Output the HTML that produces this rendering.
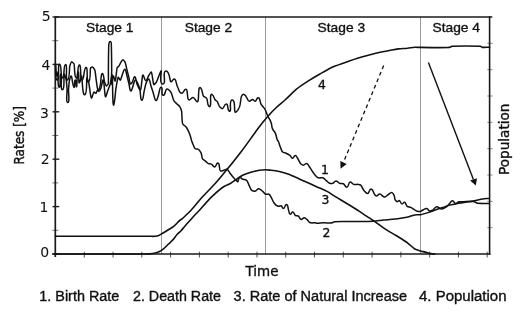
<!DOCTYPE html>
<html><head><meta charset="utf-8"><style>
html,body{margin:0;padding:0;background:#fff;}
svg{display:block;}
</style></head><body>
<svg width="522" height="313" viewBox="0 0 522 313">
<rect width="522" height="313" fill="#fff"/>
<line x1="161.5" y1="17" x2="161.5" y2="254" stroke="#9a9a9a" stroke-width="1"/>
<line x1="265.5" y1="17" x2="265.5" y2="254" stroke="#9a9a9a" stroke-width="1"/>
<line x1="420.5" y1="17" x2="420.5" y2="254" stroke="#9a9a9a" stroke-width="1"/>
<line x1="52.5" y1="254.00" x2="59.3" y2="254.00" stroke="#222" stroke-width="1.4"/>
<line x1="52.3" y1="230.30" x2="58.3" y2="230.30" stroke="#777" stroke-width="1"/>
<line x1="52.5" y1="206.60" x2="59.3" y2="206.60" stroke="#222" stroke-width="1.4"/>
<line x1="52.3" y1="182.90" x2="58.3" y2="182.90" stroke="#777" stroke-width="1"/>
<line x1="52.5" y1="159.20" x2="59.3" y2="159.20" stroke="#222" stroke-width="1.4"/>
<line x1="52.3" y1="135.50" x2="58.3" y2="135.50" stroke="#777" stroke-width="1"/>
<line x1="52.5" y1="111.80" x2="59.3" y2="111.80" stroke="#222" stroke-width="1.4"/>
<line x1="52.3" y1="88.10" x2="58.3" y2="88.10" stroke="#777" stroke-width="1"/>
<line x1="52.5" y1="64.40" x2="59.3" y2="64.40" stroke="#222" stroke-width="1.4"/>
<line x1="52.3" y1="40.70" x2="58.3" y2="40.70" stroke="#777" stroke-width="1"/>
<line x1="52.5" y1="17.00" x2="59.3" y2="17.00" stroke="#222" stroke-width="1.4"/>
<line x1="84.28" y1="251.7" x2="84.28" y2="257.5" stroke="#555" stroke-width="1"/>
<line x1="113.06" y1="251.7" x2="113.06" y2="257.5" stroke="#555" stroke-width="1"/>
<line x1="141.84" y1="251.7" x2="141.84" y2="257.5" stroke="#555" stroke-width="1"/>
<line x1="170.62" y1="251.7" x2="170.62" y2="257.5" stroke="#555" stroke-width="1"/>
<line x1="199.40" y1="251.7" x2="199.40" y2="257.5" stroke="#555" stroke-width="1"/>
<line x1="228.18" y1="251.7" x2="228.18" y2="257.5" stroke="#555" stroke-width="1"/>
<line x1="256.96" y1="251.7" x2="256.96" y2="257.5" stroke="#555" stroke-width="1"/>
<line x1="285.74" y1="251.7" x2="285.74" y2="257.5" stroke="#555" stroke-width="1"/>
<line x1="314.52" y1="251.7" x2="314.52" y2="257.5" stroke="#555" stroke-width="1"/>
<line x1="343.30" y1="251.7" x2="343.30" y2="257.5" stroke="#555" stroke-width="1"/>
<line x1="372.08" y1="251.7" x2="372.08" y2="257.5" stroke="#555" stroke-width="1"/>
<line x1="400.86" y1="251.7" x2="400.86" y2="257.5" stroke="#555" stroke-width="1"/>
<line x1="429.64" y1="251.7" x2="429.64" y2="257.5" stroke="#555" stroke-width="1"/>
<line x1="458.42" y1="251.7" x2="458.42" y2="257.5" stroke="#555" stroke-width="1"/>
<line x1="487.20" y1="251.7" x2="487.20" y2="257.5" stroke="#555" stroke-width="1"/>
<line x1="487.3" y1="43.33" x2="492.6" y2="43.33" stroke="#8a8a8a" stroke-width="1"/>
<line x1="487.3" y1="69.67" x2="492.6" y2="69.67" stroke="#8a8a8a" stroke-width="1"/>
<line x1="487.3" y1="96.00" x2="492.6" y2="96.00" stroke="#8a8a8a" stroke-width="1"/>
<line x1="487.3" y1="122.33" x2="492.6" y2="122.33" stroke="#8a8a8a" stroke-width="1"/>
<line x1="487.3" y1="148.67" x2="492.6" y2="148.67" stroke="#8a8a8a" stroke-width="1"/>
<line x1="487.3" y1="175.00" x2="492.6" y2="175.00" stroke="#8a8a8a" stroke-width="1"/>
<line x1="487.3" y1="201.33" x2="492.6" y2="201.33" stroke="#8a8a8a" stroke-width="1"/>
<line x1="487.3" y1="227.67" x2="492.6" y2="227.67" stroke="#8a8a8a" stroke-width="1"/>
<line x1="55.3" y1="17" x2="492.3" y2="17" stroke="#1a1a1a" stroke-width="1.6"/>
<line x1="55.3" y1="16.2" x2="55.3" y2="257" stroke="#1a1a1a" stroke-width="1.7"/>
<line x1="52.1" y1="254.0" x2="490.40000000000003" y2="254.0" stroke="#1a1a1a" stroke-width="1.6"/>
<line x1="489.6" y1="16.2" x2="489.6" y2="254.8" stroke="#1a1a1a" stroke-width="1.6"/>
<path d="M55.30,236.30 C83.53,236.30 135.00,236.30 140.00,236.30 C143.33,236.30 147.35,236.33 150.00,236.30 C151.77,236.28 153.55,236.45 155.30,236.20 C156.48,236.03 157.68,235.82 158.80,235.40 C160.01,234.94 161.07,234.15 162.20,233.50 C163.89,232.53 166.08,231.19 168.00,230.00 C169.91,228.82 171.92,227.77 173.70,226.40 C175.92,224.68 178.30,221.61 179.70,220.50 C180.63,219.76 181.67,219.15 182.60,218.40 C184.00,217.28 185.67,215.47 187.20,214.00 C188.24,213.00 189.28,212.02 190.30,211.00 C191.83,209.48 198.64,201.09 203.00,196.30 C206.74,192.18 210.78,188.34 214.50,184.20 C217.06,181.35 219.53,178.42 222.00,175.50 C225.71,171.12 235.54,159.13 241.70,151.00 C245.80,145.58 250.80,138.50 253.70,134.50 C255.63,131.83 257.50,129.12 259.50,126.50 C262.06,123.15 264.71,119.86 267.50,116.70 C270.16,113.70 272.90,110.77 275.80,108.00 C278.74,105.19 281.98,102.72 285.00,100.00 C288.91,96.48 292.40,92.49 296.50,89.20 C300.14,86.28 304.08,83.73 308.00,81.20 C311.76,78.77 315.62,76.51 319.50,74.30 C324.42,71.49 329.29,68.53 334.50,66.30 C338.24,64.70 342.16,63.55 346.00,62.20 C349.83,60.85 353.62,59.39 357.50,58.20 C360.48,57.28 363.49,56.50 366.50,55.70 C370.32,54.68 374.14,53.67 378.00,52.80 C381.81,51.94 385.66,51.22 389.50,50.50 C392.46,49.94 395.41,49.28 398.40,48.90 C401.45,48.51 404.54,48.51 407.60,48.20 C410.07,47.95 412.52,47.39 415.00,47.30 C416.67,47.24 418.33,47.37 420.00,47.40 C422.50,47.44 448.98,47.77 450.00,47.30 C450.68,46.99 451.32,46.61 452.00,46.30 C453.02,45.83 479.74,45.87 480.50,46.30 C481.01,46.58 481.47,46.95 482.00,47.20 C482.79,47.57 487.07,47.20 489.60,47.20" fill="none" stroke="#111" stroke-width="1.6" stroke-linejoin="round" stroke-linecap="round"/>
<path d="M55.30,254.00 C83.53,254.00 135.00,254.04 140.00,254.00 C143.33,253.97 147.84,254.12 150.00,253.90 C151.44,253.76 152.89,253.62 154.30,253.30 C156.09,252.89 157.86,252.32 159.50,251.50 C160.92,250.79 162.26,249.89 163.50,248.90 C164.77,247.89 165.82,246.62 167.00,245.50 C168.13,244.42 169.28,243.38 170.40,242.30 C171.38,241.35 172.38,240.42 173.30,239.40 C174.67,237.88 175.73,235.86 177.20,234.30 C178.25,233.19 179.53,232.30 180.60,231.20 C181.82,229.95 182.86,228.53 184.00,227.20 C185.71,225.21 188.05,222.59 190.10,220.30 C191.99,218.19 194.23,215.63 195.80,214.00 C196.85,212.91 197.94,211.88 199.00,210.80 C200.59,209.19 207.42,200.75 212.20,196.30 C216.07,192.70 221.51,188.05 224.50,186.30 C226.49,185.13 228.70,184.36 230.70,183.20 C232.71,182.03 234.56,180.60 236.50,179.30 C238.40,178.03 240.17,176.55 242.20,175.50 C244.05,174.54 246.03,173.88 248.00,173.20 C249.87,172.55 251.78,171.98 253.70,171.50 C255.61,171.02 257.55,170.58 259.50,170.30 C261.39,170.02 263.29,169.80 265.20,169.80 C267.14,169.80 269.07,170.09 271.00,170.30 C273.75,170.60 276.50,170.92 279.20,171.50 C281.91,172.09 284.58,172.89 287.20,173.80 C289.16,174.49 291.08,175.30 293.00,176.10 C295.88,177.30 300.66,179.58 304.50,181.30 C308.33,183.01 312.17,184.69 316.00,186.40 C319.84,188.12 323.87,189.56 327.50,191.60 C329.92,192.96 332.15,194.63 334.50,196.10 C338.03,198.31 342.18,200.67 346.00,203.00 C350.63,205.82 356.42,209.39 359.80,211.60 C362.05,213.07 364.26,214.62 366.50,216.10 C369.15,217.86 371.87,219.51 374.50,221.30 C378.07,223.73 381.40,226.52 385.00,228.90 C388.73,231.37 392.71,233.43 396.50,235.80 C400.38,238.23 404.43,240.61 408.00,243.30 C410.38,245.10 412.72,247.88 414.90,249.00 C416.36,249.74 417.94,250.21 419.50,250.70 C421.37,251.28 423.30,251.62 425.20,252.10 C427.14,252.59 429.03,253.28 431.00,253.60 C432.32,253.82 433.67,253.87 435.00,254.00" fill="none" stroke="#111" stroke-width="1.6" stroke-linejoin="round" stroke-linecap="round"/>
<path d="M55.50,65.00 C55.72,66.83 56.28,76.91 56.80,76.00 C57.14,75.39 57.71,72.63 58.00,72.00 C58.43,71.05 57.32,88.54 59.40,87.10 C61.20,85.85 59.16,75.46 60.80,74.00 C62.78,72.24 59.75,89.77 62.40,89.80 C65.05,89.83 63.34,72.68 64.20,74.00 C64.78,74.88 65.96,78.97 66.20,80.00 C66.56,81.54 66.98,88.33 67.10,90.00 C67.26,92.08 65.71,102.50 67.80,102.50 C69.89,102.50 68.33,92.08 68.50,90.00 C68.63,88.33 69.20,81.03 69.50,80.00 C69.70,79.32 70.37,76.33 71.00,76.00 C71.92,75.53 72.23,81.01 72.50,82.00 C72.75,82.91 73.27,86.96 74.10,87.40 C75.20,87.99 74.09,79.67 75.30,80.00 C76.39,80.30 76.04,85.66 76.50,86.70 C77.18,88.26 76.84,70.01 78.30,72.00 C79.36,73.45 78.18,83.85 79.50,82.70 C80.38,81.93 80.91,77.00 81.50,76.00 C82.39,74.49 81.97,96.05 84.90,94.80 C87.50,93.69 86.16,76.66 87.00,78.00 C87.56,78.89 88.71,82.99 89.00,84.00 C89.44,85.52 90.63,99.07 91.70,97.90 C92.41,97.12 93.42,91.88 94.00,92.00 C94.39,92.08 95.60,93.32 96.00,93.30 C96.60,93.27 96.96,89.93 97.50,90.00 C97.86,90.05 98.74,91.43 99.10,91.50 C99.64,91.61 100.73,88.61 101.00,88.00 C101.40,87.09 102.25,81.15 103.00,80.00 C104.13,78.28 104.65,98.13 105.70,96.70 C106.40,95.75 107.59,91.11 108.00,90.00 C108.32,89.16 109.72,85.85 110.00,85.00 C110.42,83.72 111.45,76.61 112.00,75.00 C112.82,72.59 112.27,108.75 113.80,104.80 C114.82,102.17 115.49,90.72 116.00,88.00 C116.34,86.19 117.80,76.61 118.40,77.20 C118.80,77.59 119.61,79.83 120.10,80.10 C120.83,80.51 122.07,75.00 122.50,74.00 C122.85,73.19 123.86,69.47 124.70,69.20 C125.84,68.83 126.66,74.85 127.00,76.00 C127.39,77.32 128.64,82.67 129.00,84.00 C129.32,85.17 129.87,91.43 131.00,91.00 C131.84,90.68 132.66,86.83 133.00,86.00 C133.41,85.00 134.44,79.77 135.50,80.00 C136.27,80.17 137.65,83.29 138.00,84.00 C138.47,84.95 139.72,88.99 140.00,90.00 C140.43,91.52 140.42,100.90 142.00,100.20 C143.29,99.63 143.67,93.37 144.00,92.00 C144.34,90.58 145.49,84.68 146.00,83.50 C146.34,82.71 147.68,79.25 148.50,79.00 C149.68,78.63 150.60,84.83 151.00,86.00 C151.34,87.00 152.65,91.01 153.00,92.00 C153.51,93.43 154.91,101.13 156.30,100.50 C157.28,100.06 158.24,95.51 158.60,94.50 C159.02,93.31 159.65,87.48 160.90,87.30 C163.65,86.90 160.43,95.24 163.20,95.30 C165.69,95.36 164.94,88.74 167.20,89.00 C168.71,89.17 169.71,90.76 170.70,91.90 C172.19,93.62 172.84,99.48 174.10,101.10 C174.94,102.18 176.02,103.04 177.00,104.00 C177.96,104.94 179.14,105.69 179.90,106.80 C180.82,108.15 181.27,109.80 181.60,111.40 C181.89,112.81 181.77,114.27 181.90,115.70 C182.09,117.85 181.84,122.96 183.00,124.40 C183.77,125.36 185.08,125.78 185.90,126.70 C186.93,127.84 187.51,129.32 188.20,130.70 C189.11,132.53 189.88,134.45 190.50,136.40 C190.99,137.94 191.18,139.57 191.70,141.10 C192.17,142.50 192.77,143.86 193.40,145.20 C193.95,146.36 194.13,147.90 195.20,148.60 C196.00,149.12 197.15,148.77 198.00,149.20 C199.28,149.84 200.15,151.31 200.90,152.60 C202.01,154.51 201.64,157.94 202.60,159.00 C203.24,159.71 204.15,160.12 204.90,160.70 C206.03,161.57 207.03,163.06 208.40,163.60 C209.31,163.96 210.39,163.73 211.30,164.10 C212.67,164.65 213.21,167.10 214.70,167.00 C216.34,166.89 216.04,163.52 217.60,163.00 C219.94,162.21 219.09,170.82 220.50,171.00 C221.44,171.12 222.38,170.73 223.30,170.50 C224.50,170.20 225.59,169.05 226.80,169.30 C228.28,169.61 228.75,171.62 229.70,172.80 C230.82,174.18 231.84,175.65 233.00,177.00 C234.11,178.28 235.95,180.15 236.50,180.70 C236.86,181.07 237.14,181.56 237.60,181.80 C238.29,182.16 238.59,177.00 240.00,177.20 C240.94,177.33 241.38,178.53 242.20,179.00 C243.43,179.70 245.13,179.30 246.30,180.10 C247.93,181.21 248.15,183.57 249.10,185.30 C250.05,187.04 250.43,189.69 252.00,190.50 C253.05,191.04 254.36,191.31 255.50,191.00 C256.66,190.68 257.12,188.96 258.30,188.70 C260.07,188.31 261.59,190.43 263.00,191.60 C263.94,192.38 264.46,193.75 265.60,194.20 C266.65,194.62 267.97,193.72 269.00,194.20 C270.24,194.78 270.60,196.42 271.30,197.60 C272.18,199.07 272.65,200.77 273.60,202.20 C274.28,203.23 274.90,204.38 275.90,205.10 C276.75,205.71 277.75,206.28 278.80,206.30 C279.59,206.32 280.32,205.56 281.10,205.70 C282.27,205.91 282.18,208.39 283.40,208.60 C285.05,208.89 284.63,204.63 286.30,204.50 C288.37,204.34 287.81,208.38 288.60,210.30 C289.15,211.64 288.85,214.33 290.30,214.30 C291.38,214.28 291.53,212.14 292.60,212.00 C294.10,211.80 294.22,214.89 295.50,215.50 C296.36,215.91 297.44,215.59 298.30,216.00 C299.58,216.61 299.69,219.43 301.20,219.50 C302.32,219.55 302.98,217.79 304.10,217.80 C305.17,217.81 306.04,218.75 306.90,219.40 C308.03,220.25 308.54,221.85 309.80,222.50 C311.34,223.30 313.89,222.64 315.00,222.80 C315.74,222.91 316.46,223.12 317.20,223.20 C318.31,223.32 321.06,222.88 323.00,222.80 C325.90,222.68 331.00,223.24 332.20,222.80 C333.00,222.51 333.72,222.03 334.50,221.70 C335.67,221.20 348.17,221.57 355.00,221.50 C360.73,221.44 366.48,221.68 372.20,221.30 C376.05,221.04 379.86,220.48 383.70,220.10 C387.53,219.72 391.38,219.48 395.20,219.00 C399.05,218.52 402.92,218.07 406.70,217.20 C409.44,216.57 412.02,215.27 414.80,214.90 C416.68,214.65 418.62,214.96 420.50,214.70 C423.04,214.35 425.46,213.38 427.90,212.60 C430.63,211.73 433.29,210.63 436.00,209.70 C438.29,208.91 440.60,208.17 442.90,207.40 C445.20,206.63 447.46,205.73 449.80,205.10 C452.23,204.45 454.72,204.03 457.20,203.60 C460.92,202.96 473.31,201.29 474.50,201.80 C475.29,202.14 476.01,202.66 476.80,203.00 C477.99,203.51 484.93,203.40 489.00,203.60" fill="none" stroke="#111" stroke-width="1.5" stroke-linejoin="round" stroke-linecap="round"/>
<path d="M55.50,64.20 C55.80,66.83 54.65,79.96 57.30,80.00 C59.95,80.04 57.19,63.47 59.70,64.30 C61.91,65.03 60.17,78.10 62.50,78.00 C64.78,77.91 63.22,65.28 65.40,64.60 C67.87,63.83 65.01,80.72 67.50,80.00 C69.77,79.34 69.37,67.11 69.80,66.00 C70.08,65.26 71.01,61.63 71.80,61.70 C72.34,61.75 73.76,63.58 74.10,64.00 C74.61,64.64 74.16,78.37 76.50,78.00 C78.69,77.65 77.11,65.72 79.20,65.00 C81.61,64.17 79.73,80.64 82.20,80.00 C84.32,79.45 83.75,67.83 85.90,67.40 C88.32,66.91 86.06,82.40 88.50,82.00 C90.83,81.62 90.03,68.31 90.50,68.00 C90.81,67.80 92.13,66.99 92.50,67.00 C93.06,67.01 94.48,69.46 94.80,70.00 C95.28,70.81 96.09,80.02 96.50,82.00 C96.78,83.35 97.23,90.52 98.50,90.00 C99.48,89.60 100.22,85.02 100.50,84.00 C100.92,82.48 100.87,72.77 102.50,73.50 C103.83,74.09 104.08,80.96 104.50,82.00 C104.78,82.69 105.86,86.17 106.50,86.00 C106.92,85.89 107.95,84.36 108.20,84.00 C108.57,83.46 108.37,72.33 108.40,70.00 C108.42,67.83 108.46,59.17 108.50,57.00 C108.53,55.00 108.66,45.86 108.80,45.00 C108.89,44.43 109.29,41.70 109.50,41.60 C109.64,41.54 110.25,41.36 110.40,41.40 C110.62,41.45 111.08,42.31 111.20,42.50 C111.38,42.79 111.46,50.42 111.50,52.00 C111.56,54.38 111.66,67.00 111.70,70.00 C111.73,72.33 110.97,85.81 111.90,84.00 C112.52,82.79 112.48,75.18 113.50,76.00 C114.18,76.54 114.55,80.25 115.00,81.00 C115.67,82.12 116.79,67.92 117.20,67.50 C117.47,67.22 118.74,66.29 119.00,66.00 C119.39,65.57 120.56,62.60 121.00,62.00 C121.29,61.60 122.50,59.80 123.00,59.80 C123.50,59.80 124.72,61.59 125.00,62.00 C125.43,62.61 126.67,68.67 127.00,70.00 C127.33,71.33 128.67,76.67 129.00,78.00 C129.25,79.02 129.81,84.34 130.50,84.10 C130.96,83.94 132.22,82.39 132.50,82.00 C132.92,81.41 133.63,77.06 134.50,76.70 C135.69,76.21 136.48,82.82 137.00,84.00 C137.46,85.04 139.32,89.29 140.20,90.00 C141.53,91.06 141.91,73.93 143.10,75.00 C143.89,75.71 144.95,80.87 146.00,80.70 C146.88,80.55 148.05,76.76 148.50,76.00 C148.91,75.32 150.47,72.48 151.10,72.00 C152.05,71.27 153.22,85.18 154.00,84.70 C154.52,84.38 156.14,82.50 156.50,82.00 C157.04,81.25 158.77,76.01 159.20,75.00 C159.49,74.33 160.55,71.58 161.00,71.00 C162.35,69.27 158.28,83.39 162.60,84.00 C167.04,84.63 161.62,70.72 166.10,71.00 C170.09,71.25 169.52,82.66 171.30,81.80 C172.49,81.23 172.85,79.41 174.10,79.00 C175.98,78.38 176.22,84.44 177.60,87.00 C178.78,89.19 179.12,93.45 181.60,93.30 C183.48,93.19 183.78,89.78 185.60,89.30 C188.33,88.58 186.64,100.24 189.00,100.00 C190.58,99.84 191.52,97.50 193.10,97.60 C195.01,97.72 195.33,100.98 197.10,101.70 C199.75,102.78 197.24,85.32 200.60,87.90 C202.84,89.62 202.02,94.36 203.40,95.90 C204.32,96.93 205.80,97.36 206.70,98.40 C208.05,99.97 206.73,104.80 209.00,106.40 C212.37,108.77 208.96,92.85 211.90,94.40 C213.86,95.43 214.47,99.41 215.30,100.10 C215.85,100.56 216.56,100.82 217.10,101.30 C217.91,102.01 218.89,105.99 219.90,107.00 C220.58,107.67 221.27,108.49 222.20,108.70 C223.60,109.01 224.25,104.06 226.30,104.10 C228.78,104.15 226.91,109.84 229.10,111.00 C232.39,112.74 228.34,100.96 232.00,100.10 C236.13,99.13 233.21,113.62 236.00,112.20 C237.86,111.25 238.47,108.82 239.50,107.00 C241.04,104.27 239.89,93.41 244.10,94.40 C246.90,95.06 247.39,101.49 249.30,101.30 C250.58,101.18 251.44,99.27 252.70,99.50 C253.66,99.67 254.03,101.20 255.00,101.30 C256.45,101.45 256.44,98.19 257.90,97.80 C260.10,97.21 259.89,102.56 261.30,104.70 C262.36,106.30 263.89,107.57 264.90,109.20 C266.21,111.32 266.71,113.86 267.80,116.10 C268.66,117.87 269.99,119.74 270.60,121.30 C271.01,122.34 271.34,123.41 271.60,124.50 C271.88,125.65 271.80,126.89 272.20,128.00 C272.52,128.88 273.00,129.70 273.50,130.50 C274.00,131.31 274.75,131.96 275.20,132.80 C275.76,133.85 275.96,135.06 276.30,136.20 C276.63,137.32 276.72,138.53 277.20,139.60 C277.55,140.38 278.13,141.03 278.50,141.80 C279.03,142.88 279.29,144.07 279.70,145.20 C280.12,146.34 280.53,147.48 281.00,148.60 C281.49,149.75 281.66,151.17 282.60,152.00 C283.52,152.82 284.97,152.70 286.10,153.20 C287.51,153.82 288.95,154.48 290.10,155.50 C291.00,156.30 291.20,158.16 292.40,158.30 C293.73,158.45 293.97,155.35 295.30,155.50 C296.50,155.64 296.88,157.33 297.60,158.30 C298.67,159.76 299.95,163.23 301.00,164.00 C301.70,164.51 302.44,165.11 303.30,165.20 C304.59,165.34 305.53,163.09 306.80,163.40 C308.00,163.69 308.37,165.31 309.10,166.30 C310.20,167.79 311.25,169.85 312.50,171.50 C314.22,173.78 316.09,177.16 318.30,177.80 C319.77,178.23 321.46,177.26 322.90,177.80 C324.29,178.32 325.14,179.77 326.30,180.70 C327.38,181.56 328.28,182.80 329.60,183.20 C330.69,183.53 331.92,183.56 333.00,183.20 C334.17,182.81 334.67,181.01 335.90,180.90 C337.29,180.78 338.09,182.71 339.40,183.20 C340.66,183.68 342.18,183.23 343.40,183.80 C344.85,184.48 345.20,187.11 346.80,187.20 C348.86,187.32 348.25,182.08 350.30,182.10 C351.67,182.11 352.40,183.98 353.70,184.40 C355.16,184.87 357.13,184.20 358.30,184.40 C359.08,184.53 359.89,184.66 360.60,185.00 C361.67,185.52 362.60,189.05 364.10,190.70 C365.10,191.80 366.01,193.56 367.50,193.60 C369.43,193.65 369.07,189.02 371.00,189.00 C373.04,188.98 373.59,193.16 374.40,194.10 C374.94,194.73 375.32,195.63 376.10,195.90 C377.27,196.31 378.29,194.22 379.60,194.10 C381.56,193.92 382.96,197.34 384.80,197.00 C386.03,196.77 386.84,195.56 387.90,194.90 C389.23,194.07 390.50,192.15 392.00,192.60 C393.31,193.00 393.76,194.74 394.30,196.00 C394.83,197.22 394.42,198.82 395.20,199.90 C395.77,200.69 396.53,201.80 397.50,201.70 C398.19,201.63 398.52,200.64 399.20,200.50 C400.22,200.29 400.65,204.15 402.10,204.00 C403.07,203.90 403.43,202.31 404.40,202.20 C405.85,202.03 405.82,205.38 407.20,206.30 C408.22,206.98 409.57,206.93 410.70,207.40 C412.40,208.10 414.42,210.32 416.40,210.90 C417.72,211.29 419.17,211.74 420.50,211.40 C421.56,211.13 422.31,210.16 423.30,209.70 C424.41,209.19 425.60,208.38 426.80,208.60 C428.01,208.82 428.48,210.69 429.70,210.90 C430.64,211.06 431.61,210.66 432.50,210.30 C433.83,209.77 434.82,207.07 436.60,206.80 C438.44,206.52 439.84,209.17 441.70,209.10 C443.41,209.03 444.91,207.80 446.30,206.80 C447.37,206.03 448.25,205.02 449.20,204.10 C450.36,202.99 451.00,200.57 452.60,200.70 C453.96,200.81 454.15,203.41 455.50,203.60 C456.80,203.78 457.73,202.11 459.00,201.80 C460.30,201.48 461.67,201.84 463.00,201.80 C465.00,201.75 467.61,201.55 469.90,201.30 C471.81,201.09 473.71,200.83 475.60,200.50 C477.92,200.09 480.17,199.35 482.50,199.00 C484.65,198.67 486.83,198.60 489.00,198.40" fill="none" stroke="#111" stroke-width="1.5" stroke-linejoin="round" stroke-linecap="round"/>
<line x1="383.7" y1="65.6" x2="343.6" y2="162" stroke="#111" stroke-width="1.3" stroke-dasharray="3.8 3.2"/>
<polygon points="340.3,161 346.7,163.9 340.6,168.8" fill="#111"/>
<line x1="428.4" y1="62.4" x2="473.4" y2="179.6" stroke="#111" stroke-width="1.4"/>
<polygon points="470.1,180.6 477,178.3 475.8,185.5" fill="#111"/>
<text x="86.0" y="31.5" font-family='"Liberation Sans", Arial, sans-serif' font-size="13.4" fill="#111" stroke="#111" stroke-width="0.35" text-anchor="start" textLength="47.5" lengthAdjust="spacingAndGlyphs" >Stage 1</text>
<text x="184.7" y="31.5" font-family='"Liberation Sans", Arial, sans-serif' font-size="13.4" fill="#111" stroke="#111" stroke-width="0.35" text-anchor="start" textLength="47.5" lengthAdjust="spacingAndGlyphs" >Stage 2</text>
<text x="317.6" y="31.5" font-family='"Liberation Sans", Arial, sans-serif' font-size="13.4" fill="#111" stroke="#111" stroke-width="0.35" text-anchor="start" textLength="47.5" lengthAdjust="spacingAndGlyphs" >Stage 3</text>
<text x="432.5" y="31.5" font-family='"Liberation Sans", Arial, sans-serif' font-size="13.4" fill="#111" stroke="#111" stroke-width="0.35" text-anchor="start" textLength="47.5" lengthAdjust="spacingAndGlyphs" >Stage 4</text>
<text x="44.8" y="257.4" font-family='"DejaVu Sans", "Liberation Sans", sans-serif' font-size="14" fill="#111" stroke="#111" stroke-width="0.05" text-anchor="middle" >0</text>
<text x="43.85" y="211.8" font-family='"DejaVu Sans", "Liberation Sans", sans-serif' font-size="14" fill="#111" stroke="#111" stroke-width="0.05" text-anchor="middle" >1</text>
<text x="45.1" y="164.2" font-family='"DejaVu Sans", "Liberation Sans", sans-serif' font-size="14" fill="#111" stroke="#111" stroke-width="0.05" text-anchor="middle" >2</text>
<text x="44.5" y="117.6" font-family='"DejaVu Sans", "Liberation Sans", sans-serif' font-size="14" fill="#111" stroke="#111" stroke-width="0.05" text-anchor="middle" >3</text>
<text x="46.0" y="69.5" font-family='"DejaVu Sans", "Liberation Sans", sans-serif' font-size="14" fill="#111" stroke="#111" stroke-width="0.05" text-anchor="middle" >4</text>
<text x="46.25" y="21.1" font-family='"DejaVu Sans", "Liberation Sans", sans-serif' font-size="14" fill="#111" stroke="#111" stroke-width="0.05" text-anchor="middle" >5</text>
<text x="318.0" y="89.3" font-family='"DejaVu Sans", "Liberation Sans", sans-serif' font-size="12.4" fill="#111" stroke="#111" stroke-width="0.35" text-anchor="start" >4</text>
<text x="321.0" y="173.6" font-family='"DejaVu Sans", "Liberation Sans", sans-serif' font-size="12.4" fill="#111" stroke="#111" stroke-width="0.35" text-anchor="start" >1</text>
<text x="321.4" y="203.6" font-family='"DejaVu Sans", "Liberation Sans", sans-serif' font-size="12.4" fill="#111" stroke="#111" stroke-width="0.35" text-anchor="start" >3</text>
<text x="322.6" y="236.6" font-family='"DejaVu Sans", "Liberation Sans", sans-serif' font-size="12.4" fill="#111" stroke="#111" stroke-width="0.35" text-anchor="start" >2</text>
<text x="245.5" y="276.2" font-family='"DejaVu Sans", "Liberation Sans", sans-serif' font-size="14" fill="#111" stroke="#111" stroke-width="0.35" text-anchor="start" textLength="33" lengthAdjust="spacingAndGlyphs" >Time</text>
<text transform="translate(23.6,164.5) rotate(-90)" font-family='"DejaVu Sans", "Liberation Sans", sans-serif' font-size="13.6" fill="#111" stroke="#111" stroke-width="0.4" textLength="58.5" lengthAdjust="spacingAndGlyphs">Rates [%]</text>
<text transform="translate(508.6,175) rotate(-90)" font-family='"DejaVu Sans", "Liberation Sans", sans-serif' font-size="13.4" fill="#111" stroke="#111" stroke-width="0.35" textLength="71.5" lengthAdjust="spacingAndGlyphs">Population</text>
<text x="39.3" y="300.5" font-family='"Liberation Sans", Arial, sans-serif' font-size="13.8" fill="#111" stroke="#111" stroke-width="0.35" text-anchor="start" textLength="80" lengthAdjust="spacingAndGlyphs" >1. Birth Rate</text>
<text x="133.0" y="300.5" font-family='"Liberation Sans", Arial, sans-serif' font-size="13.8" fill="#111" stroke="#111" stroke-width="0.35" text-anchor="start" textLength="88" lengthAdjust="spacingAndGlyphs" >2. Death Rate</text>
<text x="233.6" y="300.5" font-family='"Liberation Sans", Arial, sans-serif' font-size="13.8" fill="#111" stroke="#111" stroke-width="0.35" text-anchor="start" textLength="173.5" lengthAdjust="spacingAndGlyphs" >3. Rate of Natural Increase</text>
<text x="419.0" y="300.5" font-family='"Liberation Sans", Arial, sans-serif' font-size="13.8" fill="#111" stroke="#111" stroke-width="0.35" text-anchor="start" textLength="87.5" lengthAdjust="spacingAndGlyphs" >4. Population</text>
</svg>
</body></html>
